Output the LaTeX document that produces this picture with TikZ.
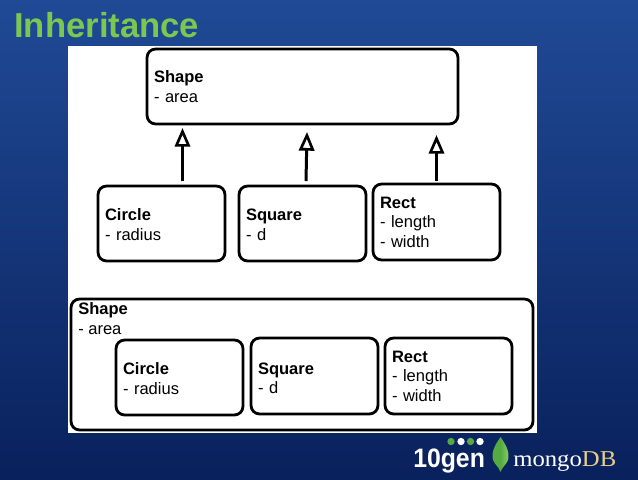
\documentclass[tikz,border=0pt]{standalone}
\usepackage{fontspec}
\setmainfont{Liberation Sans}
\newfontfamily\logoserif{Liberation Serif}
\usetikzlibrary{arrows.meta}
\definecolor{bgtop}{RGB}{32,74,150}
\definecolor{bgbot}{RGB}{9,33,92}
\definecolor{titlegreen}{RGB}{122,200,80}
\definecolor{leafgreen}{RGB}{85,170,65}
\definecolor{leaflight}{RGB}{150,210,110}
\definecolor{dbgold}{RGB}{232,205,140}
\tikzset{
  classbox/.style={draw=black,line width=2.1pt,rounded corners=6.5pt,fill=white,outer sep=0pt,
    inner sep=0pt,text=black,font=\fontsize{12.4}{14.6}\selectfont,align=left},
  classtext/.style={anchor=west,inner sep=0pt,text=black,align=left,font=\fontsize{12.4}{14.6}\selectfont},
  inherit/.style={line width=2.25pt,-{Triangle[open,length=14pt,width=11.5pt,line width=2pt]}},
  logodot/.style={circle,inner sep=0pt,minimum size=5.5pt},
}
\newcommand{\classnode}[6]{%
  \pgfmathsetmacro{\cw}{(#4-#2)*0.75}%
  \pgfmathsetmacro{\ch}{(#5-#3)*0.75}%
  \pgfmathsetmacro{\ctw}{(#4-#2-14)*0.75}%
  \node[classbox,minimum width=\cw pt,minimum height=\ch pt,text width=\ctw pt] (#1) at ({(#2+#4)/2},{(#3+#5)/2}) {#6};
}
\begin{document}
\begin{tikzpicture}[x=0.75pt,y=-0.75pt]
\useasboundingbox (0,0) rectangle (638,479);
\shade[top color=bgtop,bottom color=bgbot] (0,0) rectangle (638,479);
\node[anchor=west,inner sep=0pt,text=titlegreen,font=\bfseries\fontsize{26}{30}\selectfont] (title) at (14,25) {Inheritance};
\fill[white] (68,46) rectangle (537,433);
% top diagram
\classnode{shapeT}{147}{49}{458}{124}{\textbf{Shape}\\- area}
\classnode{circleT}{98}{186}{225}{261}{\rule{0pt}{10.5pt}\textbf{Circle}\\- radius}
\classnode{squareT}{239}{186}{366}{261}{\rule{0pt}{10.5pt}\textbf{Square}\\- d}
\classnode{rectT}{373}{184}{500}{260}{\textbf{Rect}\\- length\\- width}
\coordinate (a1s) at (182.5,181); \coordinate (a1e) at (182.5,128);
\coordinate (a2s) at (306,181); \coordinate (a2e) at (307,132);
\coordinate (a3s) at (436.5,181); \coordinate (a3e) at (436.5,135);
\draw[inherit] (a1s) -- (a1e);
\draw[inherit] (a2s) -- (a2e);
\draw[inherit] (a3s) -- (a3e);
% bottom diagram
\classnode{shapeB}{71}{299}{533}{430}{}
\node[classtext] (shapeBtext) at (78,318.5) {\textbf{Shape}\\- area};
\classnode{circleB}{116}{340}{243}{415}{\rule{0pt}{10.5pt}\textbf{Circle}\\- radius}
\classnode{squareB}{251}{338}{378}{414}{\rule{0pt}{12.5pt}\textbf{Square}\\- d}
\classnode{rectB}{385}{338}{512}{414}{\textbf{Rect}\\- length\\- width}
% logo
\node[anchor=base west,inner sep=0pt,text=white,xscale=0.93,font=\bfseries\fontsize{20}{24}\selectfont] (tengen) at (413,467) {10gen};
\foreach \x/\c [count=\i] in {451/leafgreen,461/white,470.5/leafgreen,480/white}
  \node[logodot,fill=\c] (dot\i) at (\x,441.5) {};
\shade[left color=leafgreen,right color=leaflight,middle color=leafgreen] (500.5,437) .. controls (495,445) and (491,452) .. (493,460) .. controls (495,465) and (499,467) .. (500.5,472) .. controls (502,467) and (506,465) .. (508,460) .. controls (510,452) and (506,445) .. (500.5,437) -- cycle;
\node[anchor=base west,inner sep=0pt,text=white,xscale=1.09,font=\logoserif\fontsize{17}{20}\selectfont] (mongo) at (513,466) {mongo\textcolor{dbgold}{DB}};
\end{tikzpicture}
\end{document}
